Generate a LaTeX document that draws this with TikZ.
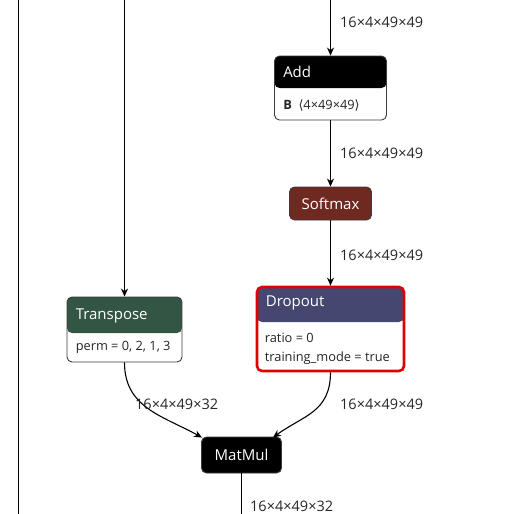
\documentclass[tikz,border=0pt]{standalone}
\usepackage{fontspec}
\setmainfont{Open Sans}
\newfontfamily\symfont{DejaVu Sans}
\usetikzlibrary{arrows.meta,positioning}

\definecolor{actred}{RGB}{112,41,33}
\definecolor{dropblue}{RGB}{69,71,112}
\definecolor{transgreen}{RGB}{51,85,68}
\definecolor{selred}{RGB}{225,0,0}
\definecolor{edgegray}{RGB}{60,60,60}

\begin{document}
\begin{tikzpicture}[
    x=1pt, y=-1pt,
    box/.style={draw=edgegray, line width=0.9pt, rounded corners=5pt, fill=white, inner sep=0pt},
    hdr/.style 2 args={path picture={\fill[#1] (path picture bounding box.north west) rectangle ([yshift=-#2]path picture bounding box.north east);}},
    opbox/.style={box, fill=#1, text=white, font=\fontsize{15}{18}\selectfont},
    hdtxt/.style={text=white, font=\fontsize{15}{18}\selectfont, inner sep=0pt, anchor=west},
    bdtxt/.style={text=black!85, font=\fontsize{12.8}{15}\selectfont, inner sep=0pt, anchor=west},
    lbl/.style={text=black!85, font=\fontsize{14.5}{17}\selectfont, inner sep=0pt, anchor=west},
    arr/.style={-{Stealth[length=8pt, width=7pt, inset=2.5pt]}, line width=1.1pt},
    wire/.style={line width=1.1pt}
]
\useasboundingbox (0,0) rectangle (504,514);

% boxes
\node[box, minimum width=112pt, minimum height=64pt, hdr={black}{32pt}] (add) at (330.5,88) {};
\node[opbox=actred, minimum width=82pt, minimum height=33pt] (softmax) at (330.5,203.5) {Softmax};
\node[box, draw=selred, line width=2.6pt, minimum width=147pt, minimum height=84pt, hdr={dropblue}{35pt}] (dropout) at (330.5,329) {};
\node[box, minimum width=115pt, minimum height=65pt, hdr={transgreen}{36pt}] (transpose) at (124.5,329.5) {};
\node[opbox=black, minimum width=80pt, minimum height=36pt] (matmul) at (241.5,455) {MatMul};

% box texts
\node[hdtxt] (addT) at ([xshift=9pt,yshift=-16pt]add.north west) {Add};
\node[bdtxt] (addB) at ([xshift=9pt,yshift=-50pt]add.north west) {\textbf{B}\ \ {\symfont ⟨}4×49×49{\symfont ⟩}};
\node[hdtxt] (dropT) at ([xshift=10pt,yshift=-17pt]dropout.north west) {Dropout};
\node[bdtxt] (dropB1) at ([xshift=9pt,yshift=-52pt]dropout.north west) {ratio = 0};
\node[bdtxt] (dropB2) at ([xshift=9pt,yshift=-72pt]dropout.north west) {training\_mode = true};
\node[hdtxt] (transT) at ([xshift=9pt,yshift=-19pt]transpose.north west) {Transpose};
\node[bdtxt] (transB) at ([xshift=9pt,yshift=-51pt]transpose.north west) {perm = 0, 2, 1, 3};

% free ends
\coordinate (inA) at (330.5,0);
\coordinate (inT) at (124.5,0);
\coordinate (sideTop) at (18.5,0);
\coordinate (sideBot) at (18.5,514);
\coordinate (outM) at (241.5,514);
\coordinate (mmL) at ([xshift=1pt,yshift=-1pt]matmul.north west);
\coordinate (mmR) at ([xshift=-9pt,yshift=-1pt]matmul.north east);

% connectors
\draw[wire] (sideTop) -- (sideBot);
\draw[arr] (inT) -- (transpose);
\draw[arr] (inA) -- (add);
\draw[arr] (add) -- (softmax);
\draw[arr] (softmax) -- (dropout);
\draw[arr] (transpose.south) .. controls +(0,45) and +(-40,-22) .. (mmL);
\draw[arr] (dropout.south) .. controls +(0,40) and +(30,-22) .. (mmR);
\draw[wire] (matmul) -- (outM);

% shape labels
\node[lbl] (l1) at (340,22) {16×4×49×49};
\node[lbl] (l2) at (340,153) {16×4×49×49};
\node[lbl] (l3) at (340,255) {16×4×49×49};
\node[lbl] (l4) at (135,404) {16×4×49×32};
\node[lbl] (l5) at (340,404) {16×4×49×49};
\node[lbl] (l6) at (250,506) {16×4×49×32};
\end{tikzpicture}
\end{document}
